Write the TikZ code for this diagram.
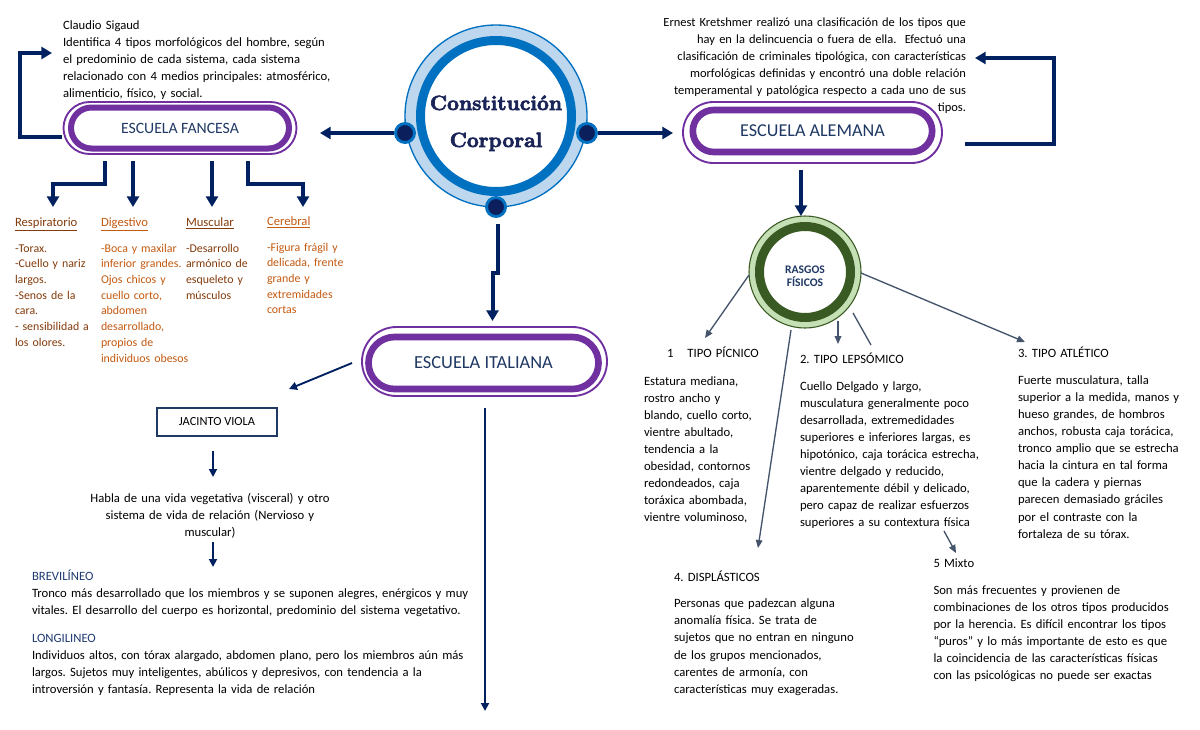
\documentclass[tikz,border=0pt]{standalone}
\usepackage{fontspec}
\usetikzlibrary{arrows.meta,shapes.misc}
\newfontfamily\calfont{Carlito}
\newfontfamily\titlefont{lmroman10-bold.otf}[FakeBold=3]
\definecolor{navy}{HTML}{002060}
\definecolor{dotnavy}{HTML}{0B1F5C}
\definecolor{ink}{HTML}{1F3864}
\definecolor{purp}{HTML}{7030A0}
\definecolor{cblue}{HTML}{0070C0}
\definecolor{lblue}{HTML}{BDD7EE}
\definecolor{dgreen}{HTML}{3A5A24}
\definecolor{lgreen}{HTML}{C5E0B4}
\definecolor{slate}{HTML}{44546A}
\definecolor{orng}{HTML}{C55A11}
\definecolor{brwn}{HTML}{843C0C}
\definecolor{ttl}{HTML}{1A2456}
\definecolor{hblue}{HTML}{1F3B73}
\frenchspacing
\begin{document}
\begin{tikzpicture}[x=0.75pt,y=-0.75pt,
  thickarrow/.style={draw=navy, line width=3pt, line join=miter, -{Triangle[length=8pt,width=9pt]}},
  thinarrow/.style={draw=navy, line width=1.4pt, -{Triangle[length=6pt,width=6pt]}},
  slatearrow/.style={draw=slate, line width=1pt, -{Triangle[length=6pt,width=5pt]}},
  slateline/.style={draw=slate, line width=1pt},
  pillin/.style={rounded rectangle, draw=purp, line width=5pt, inner sep=0pt, text=ink},
  pillout/.style={rounded rectangle, draw=purp, line width=1.4pt, inner sep=0pt},
  txt/.style={inner sep=0pt, outer sep=0pt, anchor=base west, align=left, text width=420pt,
              font=\calfont\fontsize{9.5pt}{12.75pt}\selectfont},
  rtxt/.style={txt, anchor=base east, align=right, font=\calfont\fontsize{9.35pt}{12.75pt}\selectfont},
  ctxt/.style={txt, anchor=base, align=center},
  listtxt/.style={txt, font=\calfont\fontsize{8.9pt}{11.8pt}\selectfont},
  bodytxt/.style={txt, font=\calfont\fontsize{9.5pt}{12.8pt}\selectfont},
  dotnode/.style={circle, fill=dotnavy, draw=cblue, line width=2.2pt, minimum size=14.25pt, inner sep=0pt}
]
\fill[white] (0,0) rectangle (1200,729);
\useasboundingbox (0,0) rectangle (1200,729);

% ---------- central circle ----------
\fill[lblue, draw=cblue, line width=1pt] (496,116) circle[radius=91];
\node[circle, draw=cblue, fill=white, line width=6.75pt, minimum size=113.25pt, inner sep=0pt] (cc) at (496,116) {};
\node[font=\titlefont\fontsize{15.5pt}{18pt}\selectfont, text=ttl, anchor=base, inner sep=0pt] (t1) at (496,110) {Constitución};
\node[font=\titlefont\fontsize{15.5pt}{18pt}\selectfont, text=ttl, anchor=base, inner sep=0pt] (t2) at (496,147) {Corporal};
\node[dotnode] (dotL) at (405,133) {};
\node[dotnode] (dotR) at (587,133) {};
\node[dotnode] (dotB) at (496,207) {};

% ---------- pills ----------
\node[pillout, minimum width=174.75pt, minimum height=39pt] (fanO) at (180,128) {};
\node[pillin, minimum width=163.5pt, minimum height=30.75pt, line width=4.5pt,
      font=\calfont\fontsize{11.8pt}{14pt}\selectfont] (fan) at (180,128) {ESCUELA FANCESA};
\node[pillout, minimum width=194.25pt, minimum height=45.75pt] (aleO) at (812.5,132.5) {};
\node[pillin, minimum width=179.5pt, minimum height=31.5pt,
      font=\calfont\fontsize{13.6pt}{16pt}\selectfont] (ale) at (812.5,131) {ESCUELA ALEMANA};
\node[pillout, minimum width=183.75pt, minimum height=51.75pt] (itaO) at (484.5,361.5) {};
\node[pillin, minimum width=172.5pt, minimum height=39pt,
      font=\calfont\fontsize{13.8pt}{16pt}\selectfont] (ita) at (483.5,363) {ESCUELA ITALIANA};

% ---------- rasgos circle ----------
\fill[lgreen, draw=dgreen, line width=0.8pt] (805,272) circle[radius=56];
\node[circle, draw=dgreen, fill=white, line width=6.75pt, minimum size=68.25pt, inner sep=0pt] (rasgos) at (805,272) {};
\node[font=\calfont\bfseries\fontsize{8.7pt}{10pt}\selectfont, text=ink, anchor=base, inner sep=0pt] (r1) at (805,273) {RASGOS};
\node[font=\calfont\bfseries\fontsize{8.7pt}{10pt}\selectfont, text=ink, anchor=base, inner sep=0pt] (r2) at (805,286) {FÍSICOS};

% ---------- connectors from centre ----------
\coordinate (aL) at (320,133);
\coordinate (aR) at (673,133);
\draw[thickarrow] (dotL.west) -- (aL);
\draw[thickarrow] (dotR.east) -- (aR);
\coordinate (b1) at (497.5,224);
\coordinate (b2) at (497.5,273);
\coordinate (b3) at (492.5,273);
\coordinate (b4) at (492.5,321);
\draw[thickarrow] (b1) -- (b2) -- (b3) -- (b4);

% ---------- francesa brackets ----------
\coordinate (fl1) at (62,137);
\coordinate (fl2) at (20,137);
\coordinate (fl3) at (20,53);
\coordinate (fl4) at (52,53);
\draw[thickarrow] (fl1) -- (fl2) -- (fl3) -- (fl4);
\coordinate (d1a) at (105,161); \coordinate (d1b) at (105,184); \coordinate (d1c) at (53,184); \coordinate (d1d) at (53,207);
\draw[thickarrow] (d1a) -- (d1b) -- (d1c) -- (d1d);
\coordinate (d2a) at (133,161); \coordinate (d2b) at (133,207);
\draw[thickarrow] (d2a) -- (d2b);
\coordinate (d3a) at (212,161); \coordinate (d3b) at (212,207);
\draw[thickarrow] (d3a) -- (d3b);
\coordinate (d4a) at (248,161); \coordinate (d4b) at (248,184); \coordinate (d4c) at (303,184); \coordinate (d4d) at (303,207);
\draw[thickarrow] (d4a) -- (d4b) -- (d4c) -- (d4d);

% ---------- alemana brackets ----------
\coordinate (ar1) at (965,144); \coordinate (ar2) at (1054,144); \coordinate (ar3) at (1054,58); \coordinate (ar4) at (975,58);
\draw[thickarrow] (ar1) -- (ar2) -- (ar3) -- (ar4);
\coordinate (ra1) at (801,170); \coordinate (ra2) at (801,216);
\draw[thickarrow] (ra1) -- (ra2);

% ---------- texts top ----------
\node[txt] (sigaud) at (63,29) {Claudio Sigaud\\Identifica 4 tipos morfológicos del hombre, según\\el predominio de cada sistema, cada sistema\\relacionado con 4 medios principales: atmosférico,\\alimenticio, físico, y social.};
\node[rtxt] (kret) at (966,26) {Ernest Kretshmer realizó una clasificación de los tipos que\\hay en la delincuencia o fuera de ella.\ \ Efectuó una\\clasificación de criminales tipológica, con características\\morfológicas definidas y encontró una doble relación\\temperamental y patológica respecto a cada uno de sus\\tipos.};

% ---------- francesa columns ----------
\node[txt, text=brwn] (hres) at (15,226) {\underline{Respiratorio}};
\node[txt, text=orng] (hdig) at (101,226) {\underline{Digestivo}};
\node[txt, text=brwn] (hmus) at (186,226) {\underline{Muscular}};
\node[txt, text=orng] (hcer) at (267,225) {\underline{Cerebral}};
\node[listtxt, text=brwn] (lres) at (15,252) {-Torax.\\-Cuello y nariz\\largos.\\-Senos de la\\cara.\\- sensibilidad a\\los olores.};
\node[listtxt, text=orng] (ldig) at (101,252) {-Boca y maxilar\\inferior grandes.\\Ojos chicos y\\cuello corto,\\abdomen\\desarrollado,\\propios de\\individuos obesos};
\node[listtxt, text=brwn] (lmus) at (186,252) {-Desarrollo\\armónico de\\esqueleto y\\músculos};
\node[listtxt, text=orng] (lcer) at (267,251) {-Figura frágil y\\delicada, frente\\grande y\\extremidades\\cortas};

% ---------- italiana ----------
\coordinate (i1) at (352,363); \coordinate (i2) at (289,389);
\draw[thinarrow] (i1) -- (i2);
\node[draw=ink, line width=0.9pt, minimum width=90pt, minimum height=21pt, inner sep=0pt,
      font=\calfont\fontsize{9.3pt}{11pt}\selectfont] (jac) at (217,422) {JACINTO VIOLA};
\coordinate (j1) at (213,451); \coordinate (j2) at (213,477);
\draw[thinarrow] (j1) -- (j2);
\node[ctxt] (habla) at (210,502.5) {Habla de una vida vegetativa (visceral) y otro\\sistema de vida de relación (Nervioso y\\muscular)};
\coordinate (h1) at (213,542); \coordinate (h2) at (213,567);
\draw[thinarrow] (h1) -- (h2);
\node[txt, text=hblue] (brevh) at (32,580) {BREVILÍNEO};
\node[txt, font=\calfont\fontsize{9.5pt}{13.1pt}\selectfont] (brevb) at (32,597.5) {Tronco más desarrollado que los miembros y se suponen alegres, enérgicos y muy\\vitales. El desarrollo del cuerpo es horizontal, predominio del sistema vegetativo.};
\node[txt, text=hblue] (longh) at (32,642.5) {LONGILINEO};
\node[txt] (longb) at (32,659.5) {Individuos altos, con tórax alargado, abdomen plano, pero los miembros aún más\\largos. Sujetos muy inteligentes, abúlicos y depresivos, con tendencia a la\\introversión y fantasía. Representa la vida de relación};
\coordinate (v1) at (485,408); \coordinate (v2) at (485,711);
\draw[thinarrow] (v1) -- (v2);

% ---------- rasgos connectors ----------
\coordinate (p1) at (749,275); \coordinate (p2) at (705,338);
\draw[slatearrow] (p1) -- (p2);
\coordinate (q1) at (791,330); \coordinate (q2) at (758,548);
\draw[slatearrow] (q1) -- (q2);
\coordinate (s1) at (838,321); \coordinate (s2) at (838,344);
\draw[slatearrow] (s1) -- (s2);
\coordinate (u1) at (853,313); \coordinate (u2) at (871,345);
\draw[slateline] (u1) -- (u2);
\coordinate (w1) at (861,273); \coordinate (w2) at (1025,342);
\draw[slatearrow] (w1) -- (w2);
\coordinate (m1) at (944,531); \coordinate (m2) at (956,553);
\draw[slatearrow] (m1) -- (m2);

% ---------- tipos ----------
\node[txt] (pich) at (667,357.7) {1\hspace*{10.5pt}TIPO PÍCNICO};
\node[bodytxt] (picb) at (644,385) {Estatura mediana,\\rostro ancho y\\blando, cuello corto,\\vientre abultado,\\tendencia a la\\obesidad, contornos\\redondeados, caja\\toráxica abombada,\\vientre voluminoso,};
\node[txt] (leph) at (800,363) {2. TIPO LEPSÓMICO};
\node[bodytxt] (lepb) at (800,390) {Cuello Delgado y largo,\\musculatura generalmente poco\\desarrollada, extremedidades\\superiores e inferiores largas, es\\hipotónico, caja torácica estrecha,\\vientre delgado y reducido,\\aparentemente débil y delicado,\\pero capaz de realizar esfuerzos\\superiores a su contextura física};
\node[txt] (atlh) at (1018,357.7) {3. TIPO ATLÉTICO};
\node[bodytxt] (atlb) at (1018,384.5) {Fuerte musculatura, talla\\superior a la medida, manos y\\hueso grandes, de hombros\\anchos, robusta caja torácica,\\tronco amplio que se estrecha\\hacia la cintura en tal forma\\que la cadera y piernas\\parecen demasiado gráciles\\por el contraste con la\\fortaleza de su tórax.};
\node[txt] (dish) at (674,581) {4. DISPLÁSTICOS};
\node[txt, font=\calfont\fontsize{9.5pt}{12.9pt}\selectfont] (disb) at (674,607.5) {Personas que padezcan alguna\\anomalía física. Se trata de\\sujetos que no entran en ninguno\\de los grupos mencionados,\\carentes de armonía, con\\características muy exageradas.};
\node[txt] (mixh) at (933.5,567) {5 Mixto};
\node[bodytxt] (mixb) at (933.5,594.5) {Son más frecuentes y provienen de\\combinaciones de los otros tipos producidos\\por la herencia. Es difícil encontrar los tipos\\“puros” y lo más importante de esto es que\\la coincidencia de las características físicas\\con las psicológicas no puede ser exactas};
\end{tikzpicture}
\end{document}
